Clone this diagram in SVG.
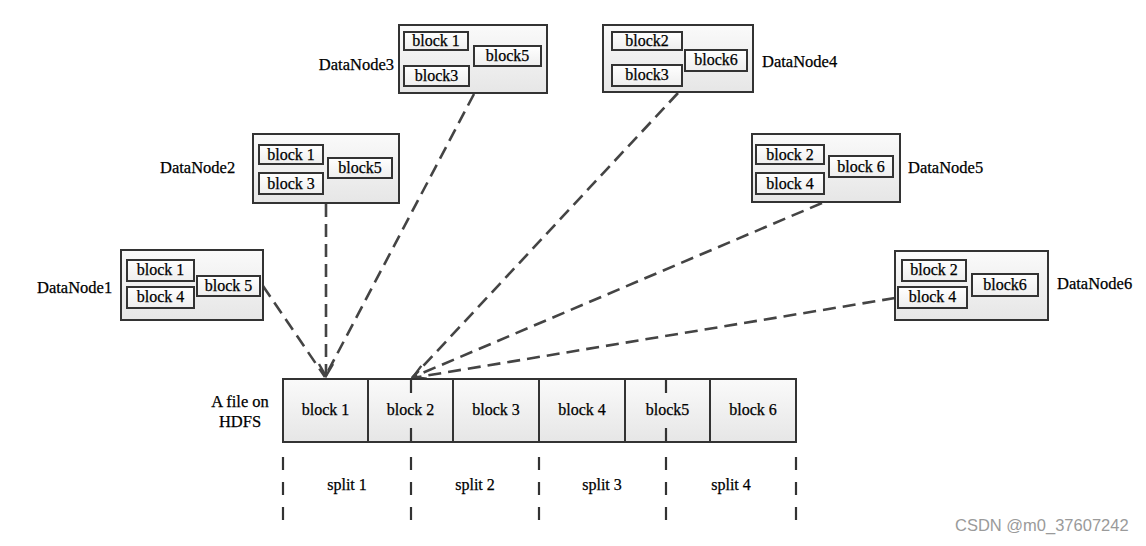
<svg xmlns="http://www.w3.org/2000/svg" width="1146" height="546" viewBox="0 0 1146 546">
<style>
.node{fill:url(#g1);stroke:#333;stroke-width:2}
.blk{fill:url(#g2);stroke:#333;stroke-width:2}
.t{font-family:"Liberation Serif","Times New Roman",serif;font-size:16px;fill:#000;stroke:#000;stroke-width:0.25}
.bt{text-anchor:middle}
.lbl{font-family:"Liberation Serif","Times New Roman",serif;font-size:16.5px;fill:#000;stroke:#000;stroke-width:0.25}
.cell{fill:url(#g1);stroke:#333;stroke-width:2}
.dash{fill:none;stroke:#444;stroke-width:2.6;stroke-dasharray:13 7}
.split{fill:none;stroke:#333;stroke-width:2.2;stroke-dasharray:13 12}
</style>
<defs>
<linearGradient id="g1" x1="0" y1="0" x2="0" y2="1"><stop offset="0" stop-color="#fafafa"/><stop offset="1" stop-color="#e6e6e6"/></linearGradient>
<linearGradient id="g2" x1="0" y1="0" x2="0" y2="1"><stop offset="0" stop-color="#ffffff"/><stop offset="1" stop-color="#eeeeee"/></linearGradient>
<marker id="arr" markerUnits="userSpaceOnUse" markerWidth="16" markerHeight="16" viewBox="0 0 16 16" refX="14" refY="8" orient="auto">
<path d="M2,1 L14,8 L2,15" fill="none" stroke="#444" stroke-width="2.4"/>
</marker>
</defs>
<rect width="1146" height="546" fill="#ffffff"/>

<g id="connectors">
<line class="dash" x1="326" y1="204" x2="326" y2="376" marker-end="url(#arr)"/>
<line class="dash" x1="263" y1="286" x2="325" y2="377"/>
<line class="dash" x1="474" y1="94" x2="325" y2="377"/>
<line class="dash" x1="678" y1="93" x2="412" y2="378"/>
<line class="dash" x1="822" y1="203" x2="413" y2="377" marker-end="url(#arr)"/>
<line class="dash" x1="895" y1="298" x2="412" y2="378"/>
</g>

<g id="DataNode3">
<rect class="node" x="399" y="25" width="148" height="68"/>
<rect class="blk" x="404" y="32" width="64" height="18"/>
<rect class="blk" x="404" y="66" width="65" height="20"/>
<rect class="blk" x="474" y="46" width="67" height="20"/>
<text class="t bt" x="436" y="46">block 1</text>
<text class="t bt" x="436.5" y="81">block3</text>
<text class="t bt" x="507.5" y="61">block5</text>
<text class="lbl" x="394" y="70" text-anchor="end">DataNode3</text>
</g>

<g id="DataNode4">
<rect class="node" x="603" y="25" width="150" height="67"/>
<rect class="blk" x="612" y="32" width="70" height="18"/>
<rect class="blk" x="612" y="65" width="70" height="21"/>
<rect class="blk" x="685" y="50" width="62" height="21"/>
<text class="t bt" x="647" y="46">block2</text>
<text class="t bt" x="647" y="80">block3</text>
<text class="t bt" x="716" y="65">block6</text>
<text class="lbl" x="762" y="67">DataNode4</text>
</g>

<g id="DataNode2">
<rect class="node" x="253" y="134" width="146" height="69"/>
<rect class="blk" x="259" y="145" width="64" height="19"/>
<rect class="blk" x="259" y="173" width="64" height="21"/>
<rect class="blk" x="328" y="158" width="64" height="20"/>
<text class="t bt" x="291" y="160">block 1</text>
<text class="t bt" x="291" y="189">block 3</text>
<text class="t bt" x="360" y="173">block5</text>
<text class="lbl" x="160" y="173">DataNode2</text>
</g>

<g id="DataNode5">
<rect class="node" x="752" y="134" width="148" height="68"/>
<rect class="blk" x="756" y="145" width="68" height="19"/>
<rect class="blk" x="756" y="173" width="68" height="21"/>
<rect class="blk" x="829" y="156" width="64" height="21"/>
<text class="t bt" x="790" y="160">block 2</text>
<text class="t bt" x="790" y="189">block 4</text>
<text class="t bt" x="861" y="172">block 6</text>
<text class="lbl" x="908" y="173">DataNode5</text>
</g>

<g id="DataNode1">
<rect class="node" x="121" y="250" width="142" height="70"/>
<rect class="blk" x="127" y="260" width="67" height="21"/>
<rect class="blk" x="127" y="287" width="67" height="21"/>
<rect class="blk" x="197" y="276" width="63" height="20"/>
<text class="t bt" x="160.5" y="275">block 1</text>
<text class="t bt" x="160.5" y="302">block 4</text>
<text class="t bt" x="228.5" y="291">block 5</text>
<text class="lbl" x="37" y="293">DataNode1</text>
</g>

<g id="DataNode6">
<rect class="node" x="895" y="251" width="153" height="69"/>
<rect class="blk" x="902" y="260" width="64" height="21"/>
<rect class="blk" x="898" y="287" width="69" height="21"/>
<rect class="blk" x="972" y="274" width="66" height="22"/>
<text class="t bt" x="934" y="275">block 2</text>
<text class="t bt" x="932.5" y="302">block 4</text>
<text class="t bt" x="1005" y="290">block6</text>
<text class="lbl" x="1057" y="289">DataNode6</text>
</g>

<g id="file">
<text class="lbl" x="240" y="407" text-anchor="middle">A file on</text>
<text class="lbl" x="240" y="427" text-anchor="middle">HDFS</text>
<rect class="cell" x="283" y="379" width="85" height="63"/>
<rect class="cell" x="368" y="379" width="85" height="63"/>
<rect class="cell" x="453" y="379" width="86" height="63"/>
<rect class="cell" x="539" y="379" width="86" height="63"/>
<rect class="cell" x="625" y="379" width="85" height="63"/>
<rect class="cell" x="710" y="379" width="86" height="63"/>
<text class="t bt" x="325.5" y="415">block 1</text>
<text class="t bt" x="410.5" y="415">block 2</text>
<text class="t bt" x="496" y="415">block 3</text>
<text class="t bt" x="582" y="415">block 4</text>
<text class="t bt" x="667.5" y="415">block5</text>
<text class="t bt" x="753" y="415">block 6</text>
<line x1="411" y1="379" x2="411" y2="393" stroke="#333" stroke-width="2.2"/>
<line x1="411" y1="428" x2="411" y2="442" stroke="#333" stroke-width="2.2"/>
<line x1="666" y1="379" x2="666" y2="393" stroke="#333" stroke-width="2.2"/>
<line x1="666" y1="428" x2="666" y2="442" stroke="#333" stroke-width="2.2"/>
</g>

<g id="splits">
<line class="split" x1="283" y1="457" x2="283" y2="521"/>
<line class="split" x1="411" y1="457" x2="411" y2="521"/>
<line class="split" x1="539" y1="457" x2="539" y2="521"/>
<line class="split" x1="666" y1="457" x2="666" y2="521"/>
<line class="split" x1="796" y1="457" x2="796" y2="521"/>
<text class="t bt" x="347" y="490">split 1</text>
<text class="t bt" x="475" y="490">split 2</text>
<text class="t bt" x="602" y="490">split 3</text>
<text class="t bt" x="731" y="490">split 4</text>
</g>

<text x="955" y="531" font-family="Liberation Sans, Arial, sans-serif" font-size="16.5" fill="#9a9a9a">CSDN @m0_37607242</text>
</svg>
